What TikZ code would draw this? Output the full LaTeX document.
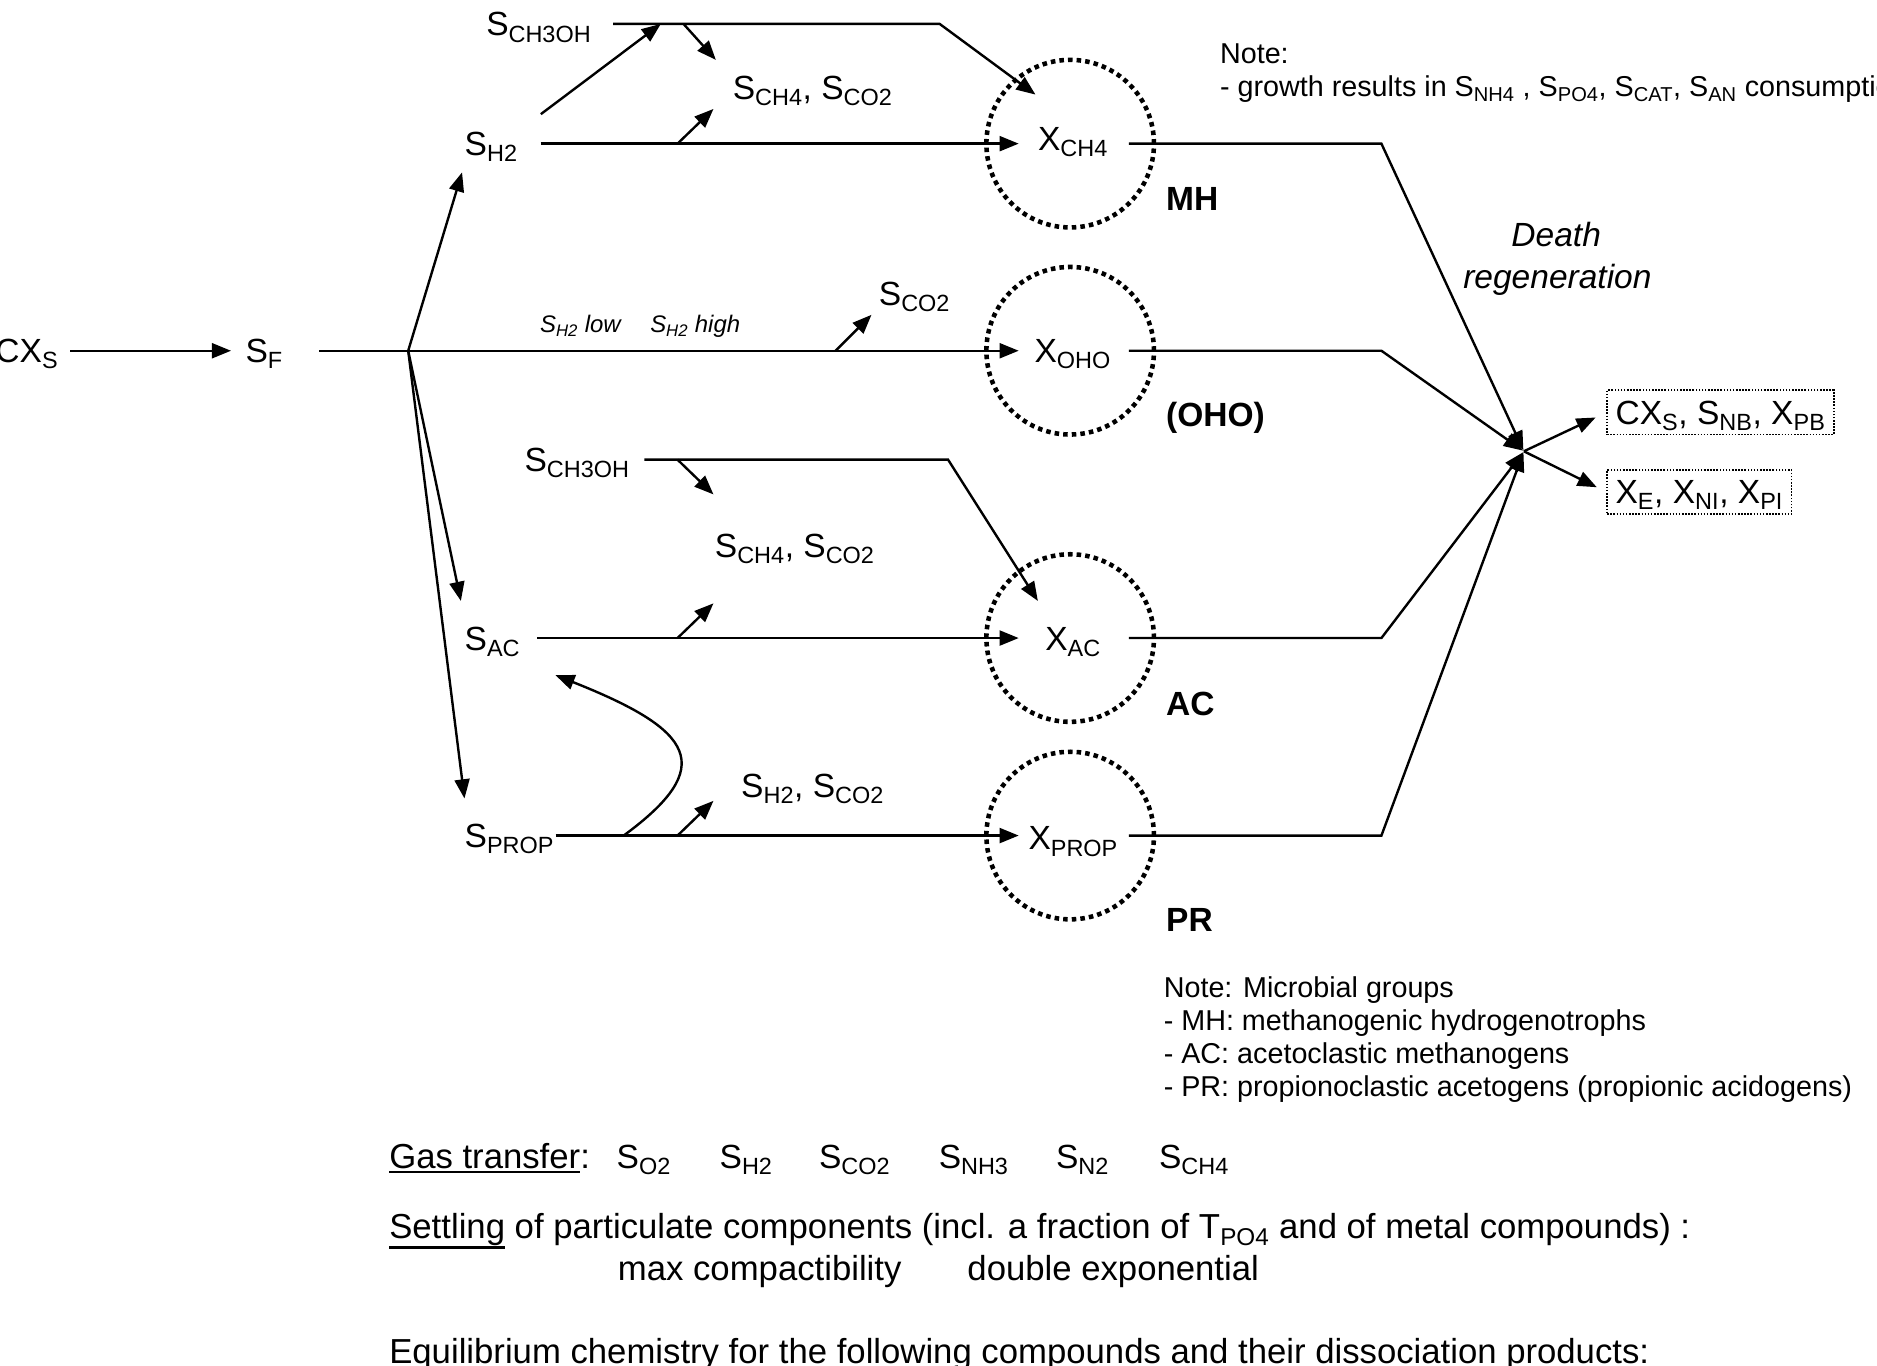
\documentclass[tikz,border=0pt]{standalone}
\usepackage{fontspec}
\setmainfont{Liberation Sans}
\usetikzlibrary{arrows.meta}
\newcommand{\Sb}[1]{S\textsubscript{#1}}
\newcommand{\Xb}[1]{X\textsubscript{#1}}
\newcommand{\ulin}[2]{\sbox0{#2}\rlap{\rule[-#1]{\wd0}{1.8pt}}\usebox0}
\tikzset{
  arr/.style={-{Triangle[length=16pt,width=12.5pt]}, line width=2pt},
  sp/.style={inner sep=0pt, anchor=west, text height=20pt, text depth=0pt, font=\fontsize{28}{32}\selectfont},
  txt/.style={inner sep=0pt, anchor=base west, font=\fontsize{28}{32}\selectfont},
  line/.style={inner sep=0pt, anchor=base west, font=\fontsize{29}{33}\selectfont},
  note/.style={inner sep=0pt, anchor=base west, font=\fontsize{24}{28}\selectfont},
  grp/.style={inner sep=0pt, anchor=base west, font=\fontsize{28}{32}\selectfont\bfseries},
  cell/.style={circle, draw, line width=3.8pt, dash pattern=on 3.8pt off 3.4pt, minimum size=140pt, inner sep=0pt},
  prod/.style={draw, line width=1.3pt, dash pattern=on 1.3pt off 1.3pt, anchor=west, inner xsep=7pt, inner ysep=0pt,
    minimum height=37pt, text height=20pt, text depth=0pt, font=\fontsize{28}{32}\selectfont},
}
\begin{document}
\begin{tikzpicture}[x=1pt, y=-1pt]
\useasboundingbox (0,0) rectangle (1568,1141);

% substrates
\node[sp] (cxs) at (-4,293) {CX\textsubscript{S}};
\node[sp] (sf) at (205,293) {\Sb{F}};
\node[sp] (sh2) at (388,120) {\Sb{H2}};
\node[sp] (sch3a) at (406,20) {\Sb{CH3OH}};
\node[sp] (sch3b) at (438,384) {\Sb{CH3OH}};
\node[sp] (sac) at (388,533) {\Sb{AC}};
\node[sp] (sprop) at (388,698) {\Sb{PROP}};

% products
\node[txt] (pmh) at (612,83) {\Sb{CH4}, \Sb{CO2}};
\node[txt] (poho) at (734,255) {\Sb{CO2}};
\node[txt] (pac) at (597,466) {\Sb{CH4}, \Sb{CO2}};
\node[txt] (ppr) at (619,666) {\Sb{H2}, \Sb{CO2}};
\node[txt, font=\fontsize{20}{24}\selectfont\itshape] (lowh2) at (451,278) {S\textsubscript{H2} low};
\node[txt, font=\fontsize{20}{24}\selectfont\itshape] (highh2) at (543,278) {S\textsubscript{H2} high};

% microbial groups
\node[cell] (cmh) at (894,120) {};
\node[cell] (coho) at (894,293) {};
\node[cell] (cac) at (894,533) {};
\node[cell] (cpr) at (894,698) {};
\node[sp] (xch4) at (867,116) {\Xb{CH4}};
\node[sp] (xoho) at (864,293) {\Xb{OHO}};
\node[sp] (xac) at (873,533) {\Xb{AC}};
\node[sp] (xprop) at (859,700) {\Xb{PROP}};
\node[grp] (lmh) at (974,176) {MH};
\node[grp] (loho) at (974,356) {(OHO)};
\node[grp] (lac) at (974,598) {AC};
\node[grp] (lpr) at (974,778) {PR};

% death and regeneration
\node[txt, anchor=base, font=\fontsize{28}{32}\selectfont\itshape] (death) at (1300,206) {Death};
\node[txt, anchor=base, font=\fontsize{28}{32}\selectfont\itshape] (regen) at (1301,241) {regeneration};
\node[prod] (bx1) at (1342,344.5) {CX\textsubscript{S}, \Sb{NB}, \Xb{PB}};
\node[prod] (bx2) at (1342,411) {\Xb{E}, \Xb{NI}, \Xb{PI}};

% notes
\node[note] (n1) at (1019,53) {Note:};
\node[note] (n2) at (1019,81) {- growth results in \Sb{NH4} , \Sb{PO4}, \Sb{CAT}, \Sb{AN} consumption};
\node[note] (n3) at (972,833) {Note: Microbial groups};
\node[note] (n4) at (972,861) {- MH: methanogenic hydrogenotrophs};
\node[note] (n5) at (972,888) {- AC: acetoclastic methanogens};
\node[note] (n6) at (972,916) {- PR: propionoclastic acetogens (propionic acidogens)};

% gas transfer, settling, equilibrium
\node[line] (gas) at (325,976) {\ulin{3.8pt}{Gas transfer}:};
\foreach \x/\s in {515/O2, 601/H2, 684/CO2, 784/NH3, 882/N2, 968/CH4}
  \node[txt] (g\s) at (\x,976) {\Sb{\s}};
\node[line] (settle) at (325,1035) {\ulin{8pt}{Settling} of particulate components (incl. a fraction of T\textsubscript{PO4} and of metal compounds) :};
\node[line] (maxc) at (516,1070) {max compactibility};
\node[line] (dexp) at (808,1070) {double exponential};
\node[line] (equil) at (325,1139) {Equilibrium chemistry for the following compounds and their dissociation products:};

% points on the connectors
\coordinate (jf) at (341,293);
\coordinate (th2) at (386,144);
\coordinate (tac) at (385,502);
\coordinate (tpr) at (388,667);
\coordinate (mh1) at (552,20);
\coordinate (bmh) at (785,20);
\coordinate (tmh) at (865,79);
\coordinate (bac) at (792,384);
\coordinate (tcac) at (867,502);
\coordinate (kmh) at (1154,120);
\coordinate (koho) at (1154,293);
\coordinate (kac) at (1154,533);
\coordinate (kpr) at (1154,698);
\coordinate (J) at (1273,377);
\coordinate (a1) at (571,20);   \coordinate (a1e) at (598,50);
\coordinate (a2) at (566,120);  \coordinate (a2e) at (596,91);
\coordinate (a3) at (698,293);  \coordinate (a3e) at (728,263);
\coordinate (a4) at (566,384);  \coordinate (a4e) at (596,413);
\coordinate (a5) at (566,533);  \coordinate (a5e) at (596,504);
\coordinate (a6) at (566,698);  \coordinate (a6e) at (596,669);
\coordinate (cv1) at (521,698);
\coordinate (cv2) at (464,564);

% uptake
\draw[arr, shorten <=10pt, shorten >=12pt] (cxs.east) -- (sf.west);
\draw[arr, shorten <=30pt, shorten >=43pt] (sf.east) -- (coho.center);
\draw[arr] (jf) -- (th2);
\draw[arr] (jf) -- (tac);
\draw[arr] (jf) -- (tpr);
\draw[arr, shorten <=19pt, shorten >=43pt] (sh2.east) -- (cmh.center);
\draw[arr, shorten <=24pt] (sh2.north east) -- (mh1);
\draw[arr, shorten <=18pt] (sch3a.east) -- (bmh) -- (tmh);
\draw[arr, shorten <=12pt] (sch3b.east) -- (bac) -- (tcac);
\draw[arr, shorten <=14pt, shorten >=43pt] (sac.east) -- (cac.center);
\draw[arr, shorten <=1pt, shorten >=43pt] (sprop.east) -- (cpr.center);
\draw[arr] (cv1) .. controls (600,640) and (580,610) .. (cv2);

% products
\foreach \i in {1,...,6}
  \draw[arr] (a\i) -- (a\i e);

% death
\draw[arr, shorten <=49pt, shorten >=1pt] (cmh.center) -- (kmh) -- (J);
\draw[arr, shorten <=49pt, shorten >=1pt] (coho.center) -- (koho) -- (J);
\draw[arr, shorten <=49pt, shorten >=1pt] (cac.center) -- (kac) -- (J);
\draw[arr, shorten <=49pt, shorten >=1pt] (cpr.center) -- (kpr) -- (J);
\draw[arr, shorten >=10pt] (J) -- (bx1.west);
\draw[arr, shorten >=9pt] (J) -- (bx2.west);

\end{tikzpicture}
\end{document}
